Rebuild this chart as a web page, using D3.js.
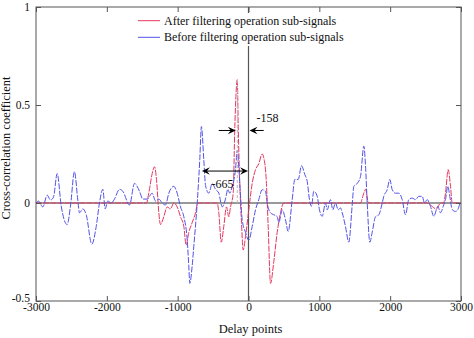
<!DOCTYPE html>
<html><head><meta charset="utf-8">
<script src="https://cdn.jsdelivr.net/npm/d3@7/dist/d3.min.js"></script>
<style>
html,body{margin:0;padding:0;background:#fff;}
text{font-family:"Liberation Serif","Times New Roman",serif;fill:#111;}
</style></head>
<body><svg id="c" width="474" height="338"></svg>
<script>
// ---- data ----
const xTicks = [-3000,-2000,-1000,0,1000,2000,3000];
const yTicks = [-0.5,0,0.5,1];
const seriesNames = ["After filtering operation sub-signals","Before filtering operation sub-signals"];

const beforeX = [-3000,-2965,-2904,-2842,-2795,-2753,-2701,-2644,-2560,-2513,-2457,-2410,-2386,-2339,-2291,-2212,-2150,-2104,-2057,-2023,-1986,-1938,-1892,-1821,-1775,-1680,-1609,-1539,-1492,-1430,-1360,-1313,-1266,-1218,-1172,-1125,-1055,-1007,-960,-913,-865,-843,-829,-795,-772,-724,-688,-665,-631,-607,-560,-512,-466,-419,-371,-325,-292,-264,-230,-184,-158,-135,-115,-89,-42,4,52,99,145,193,240,264,311,357,405,428,476,522,560,617,654,702,748,795,829,861,889,922,970,1002,1040,1087,1111,1158,1190,1228,1266,1299,1323,1369,1416,1464,1487,1535,1581,1628,1652,1676,1713,1746,1793,1840,1888,1910,1958,1995,2029,2075,2122,2170,2216,2263,2311,2358,2404,2452,2485,2523,2569,2616,2673,2711,2749,2781,2814,2842,2876,2922,2955,2993,3000];
const beforeY = [0,0.01,-0.02,0.04,0.015,0.03,0.15,-0.015,-0.11,-0.015,0.16,0.015,-0.05,-0.03,-0.06,-0.21,-0.12,0,0.07,-0.03,0.01,0,0.02,0.07,0.06,-0.01,0.1,0.06,0.02,0.02,0.05,0.01,0.02,0,-0.01,0.05,0.085,0.05,-0.02,-0.07,-0.19,-0.32,-0.41,-0.32,-0.22,0,0.22,0.39,0.22,0.09,0.05,0.1,0.07,0.05,-0.02,0.02,0.07,0.05,0.085,0.17,0.27,0.17,0.05,-0.085,-0.15,-0.19,-0.12,-0.035,0.017,0.068,0.06,0,-0.05,-0.06,-0.07,-0.1,-0.035,-0.085,-0.145,0.017,0.12,0.12,0.19,0.145,0.11,0.017,-0.017,0.06,0.034,-0.035,-0.068,0,-0.035,0.017,-0.035,0,-0.035,-0.025,-0.05,-0.12,-0.2,-0.01,0.085,0.1,0.135,0.29,0.19,0,-0.2,-0.15,-0.07,-0.06,0,0.034,0.068,0.12,0.068,0.05,0.05,0.017,-0.06,0.017,0.025,0.017,0.034,0.034,0,0.017,-0.017,-0.068,-0.017,-0.05,-0.017,0.017,0.085,0.034,-0.034,-0.043,-0.034,0,0];

const afterX = [-3000,-1440,-1408,-1360,-1327,-1299,-1266,-1242,-1196,-1148,-1101,-1055,-1007,-960,-913,-880,-843,-795,-748,-716,-442,-419,-385,-349,-311,-278,-254,-216,-193,-158,-145,-123,-99,-75,-42,4,52,99,145,193,216,250,278,311,357,405,452,498,1581,1619,1652,1694,2541,2598,2654,2711,2753,2781,2819,2852,2876,3000];
const afterY = [0,0,0.05,0.15,0.185,0.12,-0.05,-0.11,-0.07,-0.02,-0.03,0,-0.02,-0.07,-0.12,-0.215,-0.15,-0.1,-0.05,0,0,-0.05,-0.2,-0.12,-0.02,-0.07,-0.02,0.05,0.39,0.63,0.39,0.1,-0.1,-0.24,-0.17,-0.035,0.1,0.17,0.2,0.25,0.23,0.12,-0.12,-0.41,-0.3,-0.15,-0.05,0,0,0.04,0.07,0,0,-0.02,-0.03,0,0,0.05,0.17,0.085,0,0];

// annotations
const peakLag = -158, peakVal = 0.63;
const blueLag = -665;
const arrowY158 = 0.37, arrowY665 = 0.163;

// ---- drawing ----
const W = 474, H = 338;
const m = {l:36, r:13, t:7, b:37};
const svg = d3.select("#c");
const x = d3.scaleLinear().domain([-3000,3000]).range([m.l, W-m.r]);
const y = d3.scaleLinear().domain([-0.5,1]).range([H-m.b, m.t]);
const axisCol = "#555";
const red = "#e8365f", blue = "#5252ea";

// zero lines
svg.append("line").attr("x1",x(-3000)).attr("x2",x(3000)).attr("y1",y(0)).attr("y2",y(0))
  .attr("stroke","#333").attr("stroke-width",1);
svg.append("line").attr("x1",x(0)).attr("x2",x(0)).attr("y1",y(1)).attr("y2",y(-0.5))
  .attr("stroke","#555").attr("stroke-width",1.2);

const line = d3.line().x(d=>x(d[0])).y(d=>y(d[1])).curve(d3.curveMonotoneX);
const after = afterX.map((v,i)=>[v,afterY[i]]);
const before = beforeX.map((v,i)=>[v,beforeY[i]]);

svg.append("path").attr("d",line(after)).attr("fill","none").attr("stroke",red)
  .attr("stroke-width",1).attr("stroke-dasharray","6,1.2");
svg.append("path").attr("d",line(before)).attr("fill","none").attr("stroke",blue)
  .attr("stroke-width",1).attr("stroke-dasharray","6,1.5");

// dashed vertical at peak
svg.append("line").attr("x1",x(peakLag)).attr("x2",x(peakLag)).attr("y1",y(0)).attr("y2",y(peakVal))
  .attr("stroke","#bbb").attr("stroke-width",1).attr("stroke-dasharray","3,2");

// frame + axes
const g = svg.append("g");
g.append("rect").attr("x",m.l).attr("y",m.t).attr("width",W-m.l-m.r).attr("height",H-m.t-m.b)
  .attr("fill","none").attr("stroke",axisCol).attr("stroke-width",1);

const xb = d3.axisBottom(x).tickValues(xTicks).tickSize(-5).tickPadding(2).tickFormat(d=>String(d));
const xt = d3.axisTop(x).tickValues(xTicks).tickSize(-5).tickFormat("");
const yl = d3.axisLeft(y).tickValues(yTicks).tickSize(-5).tickPadding(6).tickFormat(d=>String(d));
const yr = d3.axisRight(y).tickValues(yTicks).tickSize(-5).tickFormat("");
function style(sel){
  sel.select(".domain").remove();
  sel.selectAll("line").attr("stroke",axisCol);
  sel.selectAll("text").attr("font-family","Liberation Serif, serif").attr("font-size",11.5).attr("fill","#111");
}
g.append("g").attr("transform",`translate(0,${H-m.b})`).call(xb).call(style);
g.append("g").attr("transform",`translate(0,${m.t})`).call(xt).call(style);
const yg = g.append("g").attr("transform",`translate(${m.l},0)`).call(yl).call(style);
yg.selectAll(".tick text").filter(d=>d===-0.5).attr("dy","0.05em");
g.append("g").attr("transform",`translate(${W-m.r},0)`).call(yr).call(style);

// axis titles
svg.append("text").attr("x",(x(-3000)+x(3000))/2+2).attr("y",333).attr("text-anchor","middle")
  .attr("font-size",12.5).text("Delay points");
svg.append("text").attr("transform","translate(10,148) rotate(-90)").attr("text-anchor","middle")
  .attr("font-size",12.5).text("Cross-correlation coefficient");

// legend
const lg = svg.append("g");
lg.append("rect").attr("x",133).attr("y",13).attr("width",218).attr("height",33).attr("fill","#fff");
[[red,20.7],[blue,37.3]].forEach((d,i)=>{
  lg.append("line").attr("x1",138).attr("x2",160).attr("y1",d[1]).attr("y2",d[1]).attr("stroke",d[0]).attr("stroke-width",1);
  lg.append("text").attr("x",164).attr("y",d[1]+4).attr("font-size",12).text(seriesNames[i]);
});

// arrows
function head(px,py,dir){ // dir: +1 pointing right, -1 pointing left
  const L=8, Wd=3.8, b=5;
  svg.append("path").attr("d",`M${px},${py} L${px-dir*L},${py-Wd} L${px-dir*b},${py} L${px-dir*L},${py+Wd} Z`)
    .attr("fill","#000");
}
function hline(x1,x2,py){
  svg.append("line").attr("x1",x1).attr("x2",x2).attr("y1",py).attr("y2",py).attr("stroke","#000").attr("stroke-width",1);
}
// -158 arrows
const ya = y(arrowY158);
hline(x(-420), x(peakLag)-3, ya); head(x(peakLag)-1.5, ya, 1);
hline(x(215), x(0)+3, ya); head(x(0)+1, ya, -1);
svg.append("text").attr("x",x(113)).attr("y",y(0.413)).attr("font-size",12).text("-158");
// -665 double arrow
const yb = y(arrowY665);
hline(x(blueLag)+3, x(0)-3, yb); head(x(blueLag)+0.5, yb, -1); head(x(0)-0.5, yb, 1);
svg.append("text").attr("x",x(-522)).attr("y",y(0.077)).attr("font-size",12).text("-665");
</script></body></html>
